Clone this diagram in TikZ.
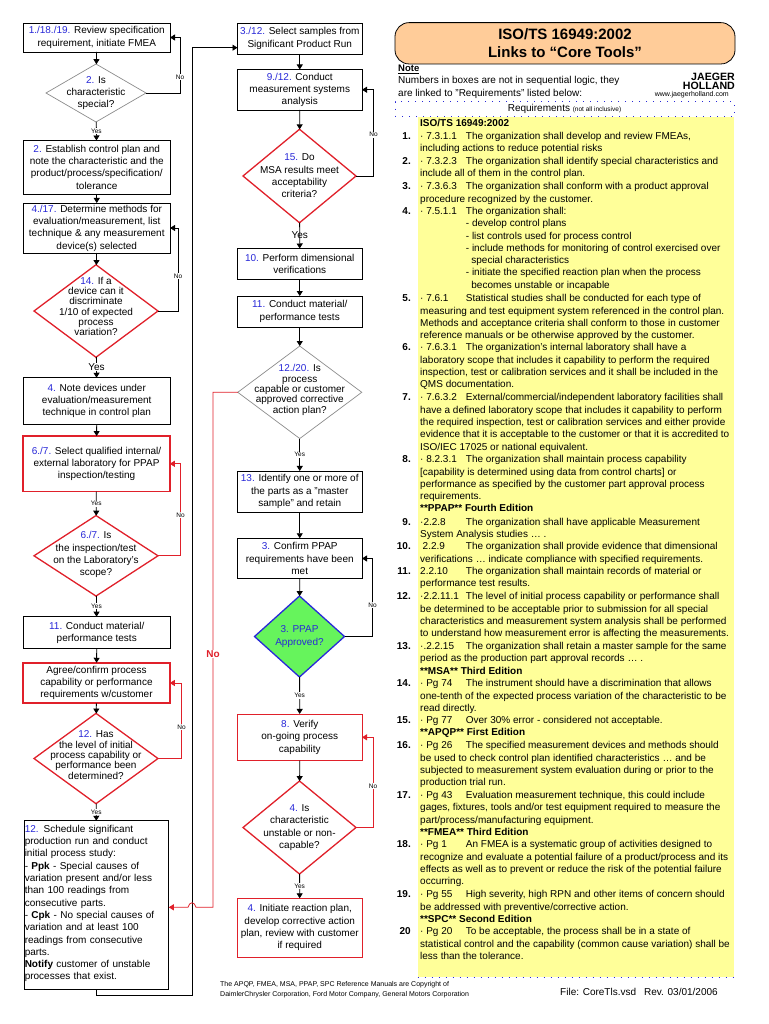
\documentclass[tikz,border=0pt]{standalone}
\usepackage{fontspec}
\setmainfont{Liberation Sans}
\usetikzlibrary{shapes.geometric}
\usetikzlibrary{arrows.meta}

\definecolor{numblue}{HTML}{2828D8}
\definecolor{flowred}{HTML}{E0202A}
\definecolor{peach}{HTML}{FFCC99}
\definecolor{reqyellow}{HTML}{FFFF99}
\definecolor{apprgreen}{HTML}{66F45C}
\newcommand{\bn}[1]{\textcolor{numblue}{#1}}
\newcommand{\reqtab}[1]{\makebox[45.7pt][l]{#1}}
\newcommand{\lift}[1]{\rule[-#1pt]{0pt}{0pt}}

\tikzset{
	boxtext/.style={font=\fontsize{10}{12.3}\selectfont},
	flowbox/.style={fill=white, draw=black, shape=rectangle, align=center, inner sep=0pt, outer sep=0pt, line width=0.8pt, boxtext},
	redbox/.style={flowbox, draw=flowred, line width=1.6pt},
	thinred/.style={flowbox, draw=flowred, line width=0.9pt},
	flowdiamond/.style={fill=white, draw=flowred, shape=diamond, align=center, inner sep=-14pt, outer sep=0pt, line width=1.3pt, boxtext},
	graydiamond/.style={flowdiamond, draw=black!45, line width=0.7pt},
	tight/.style={font=\fontsize{10}{10.3}\selectfont},
	flow/.style={draw=black, line width=0.8pt, -{Triangle[length=5pt,width=6pt,fill=black]}},
	flowr/.style={draw=flowred, line width=0.8pt, -{Triangle[length=5pt,width=6pt,fill=flowred]}},
	small/.style={fill=white, inner sep=0.8pt, font=\fontsize{6.5}{7}\selectfont},
	yeslarge/.style={inner sep=0.5pt, font=\fontsize{10}{12}\selectfont},
	reqtext/.style={anchor=north west, align=left, inner sep=0pt, boxtext},
	reqnum/.style={anchor=north east, inner sep=0pt, font=\bfseries\fontsize{10}{12.3}\selectfont},
	reqhead/.style={anchor=north west, inner sep=0pt, font=\bfseries\fontsize{10}{12.3}\selectfont},
	plain/.style={anchor=west, inner sep=0pt, boxtext},
	sparsedots/.style={draw=numblue, line width=0.8pt, dash pattern=on 0.8pt off 6.2pt},
}

\begin{document}
\begin{tikzpicture}[x=1pt, y=-1pt]
	\useasboundingbox (0, 0) rectangle (768, 1024);
	% left column
	\node [flowbox, minimum width=146.5pt, minimum height=29pt] (0) at (96.75, 37.5) {\bn{1./18./19.} Review specification\\requirement, initiate FMEA};
	\node [graydiamond, minimum width=100pt, minimum height=58pt] (1) at (96, 93) {\bn{2.} Is\\characteristic\\special?};
	\node [flowbox, minimum width=146.5pt, minimum height=53.5pt] (2) at (96.75, 167.25) {\bn{2.} Establish control plan and\\note the characteristic and the\\product/process/specification/\\tolerance};
	\node [flowbox, minimum width=146.5pt, minimum height=50pt] (3) at (96.75, 228) {\bn{4./17.} Determine methods for\\evaluation/measurement, list\\technique \& any measurement\\device(s) selected};
	\node [flowdiamond, tight, minimum width=124pt, minimum height=92.5pt] (4) at (96, 311) {\bn{14.} If a\\device can it\\discriminate\\1/10 of expected\\process\\variation?\lift{9}};
	\node [flowbox, minimum width=146.5pt, minimum height=46.5pt] (5) at (96.75, 401) {\bn{4.} Note devices under\\evaluation/measurement\\technique in control plan};
	\node [redbox, minimum width=146.5pt, minimum height=55.5pt] (6) at (96.5, 463.8) {\bn{6./7.} Select qualified internal/\\external laboratory for PPAP\\inspection/testing};
	\node [flowdiamond, minimum width=124pt, minimum height=80.5pt] (7) at (96, 555.8) {\bn{6./7.} Is\\the  inspection/test\\on the Laboratory's\\scope?\lift{4}};
	\node [flowbox, minimum width=146.5pt, minimum height=32pt] (8) at (96.75, 632.7) {\bn{11.} Conduct material/\\performance tests};
	\node [redbox, minimum width=146.5pt, minimum height=40.5pt] (9) at (96.5, 683) {Agree/confirm process\\capability or performance\\requirements w/customer};
	\node [flowdiamond, tight, minimum width=124pt, minimum height=87pt] (10) at (96, 758.5) {\bn{12.} Has\\the level of initial\\process capability  or\\performance been\\determined?\lift{7}};
	\node [flowbox, align=left, text width=144pt, minimum height=168.5pt] (11) at (96.75, 905) {\bn{12.} Schedule significant\\production run and conduct\\initial process study:\\- \textbf{Ppk} - Special causes of\\variation present and/or less\\than 100 readings from\\consecutive parts.\\- \textbf{Cpk} - No special causes of\\variation and at least 100\\readings from consecutive\\parts.\\\textbf{Notify} customer of unstable\\processes that exist.\lift{5}};
	% middle column
	\node [flowbox, minimum width=124.5pt, minimum height=31pt] (12) at (299.75, 38.5) {\bn{3./12.} Select samples from\\Significant Product Run};
	\node [flowbox, minimum width=124.5pt, minimum height=40.5pt] (13) at (299.75, 89.75) {\bn{9./12.} Conduct\\measurement systems\\analysis};
	\node [flowdiamond, minimum width=113pt, minimum height=93.5pt] (14) at (299.5, 176) {\bn{15.} Do\\MSA results meet\\acceptability\\criteria?};
	\node [flowbox, minimum width=124.5pt, minimum height=31pt] (15) at (299.75, 264) {\bn{10.} Perform dimensional\\verifications};
	\node [flowbox, minimum width=124.5pt, minimum height=31pt] (16) at (299.75, 311.5) {\bn{11.} Conduct material/\\performance tests};
	\node [graydiamond, tight, minimum width=124pt, minimum height=92.5pt] (17) at (299.75, 392.3) {\bn{12./20.} Is\\process\\capable or customer\\approved corrective\\action plan?\lift{7}};
	\node [flowbox, minimum width=124.5pt, minimum height=41.5pt] (18) at (299.75, 491.7) {\bn{13.} Identify one or more of\\the parts as a "master\\sample" and retain};
	\node [flowbox, minimum width=124.5pt, minimum height=40.5pt] (19) at (299.75, 558.5) {\bn{3.} Confirm PPAP\\requirements have been\\met};
	\node [flowdiamond, draw=numblue, fill=apprgreen, text=numblue, line width=1.3pt, minimum width=90pt, minimum height=81pt] (20) at (299.5, 636.5) {3. PPAP\\Approved?};
	\node [thinred, minimum width=124.5pt, minimum height=46.7pt] (21) at (299.75, 737.3) {\bn{8.} Verify\\on-going process\\capability};
	\node [flowdiamond, minimum width=113pt, minimum height=93pt] (22) at (299.5, 827.5) {\bn{4.} Is\\characteristic\\unstable or non-\\capable?};
	\node [thinred, minimum width=124.5pt, minimum height=59pt] (23) at (299.75, 927.8) {\bn{4.} Initiate reaction plan,\\develop corrective action\\plan, review with customer\\if required};
	% connectors left
	\draw [flow] (0) to (1);
	\draw [flow] (1) to node [small] (y0) {Yes} (2);
	\draw [flow] (2) to (3);
	\draw [flow] (3) to (4);
	\draw [flow] (4) to node [yeslarge, fill=white] (y1) {Yes} (5);
	\draw [flow] (5) to (6);
	\draw [flow] (6) to node [small] (y2) {Yes} (7);
	\draw [flow] (7) to node [small] (y3) {Yes} (8);
	\draw [flow] (8) to (9);
	\draw [flow] (9) to (10);
	\draw [flow] (10) to node [small] (y4) {Yes} (11);
	\draw [flow] (1.east) -- ++(34, 0) |- node [small, pos=0.144] (n0) {No} (0.east);
	\draw [flow] (4.east) -- ++(20, 0) |- node [small, pos=0.21] (n1) {No} (3.east);
	\draw [flowr] (7.east) -- ++(22.5, 0) |- node [small, pos=0.22, text=black] (n2) {No} (6.east);
	\draw [flowr] (10.east) -- ++(23.5, 0) |- node [small, pos=0.21, text=black] (n3) {No} (9.east);
	% connectors middle
	\draw [flow] (11.south) -- ++(0, 6.3) -- ++(95.5, 0) |- ([yshift=-9.2pt]12.west);
	\draw [flow] (12) to (13);
	\draw [flow] (13) to (14);
	\draw [flow] (14) to node [yeslarge, pos=0.48] (y5) {Yes} (15);
	\draw [flow] (15) to (16);
	\draw [flow] (16) to (17);
	\draw [flow] (17) to node [small] (y6) {Yes} (18);
	\draw [flow] (18) to (19);
	\draw [flow] (19) to (20);
	\draw [flow] (20) to node [small] (y7) {Yes} (21);
	\draw [flow] (21) to (22);
	\draw [flow] (22) to node [small] (y8) {Yes} (23);
	\draw [flow] (14.east) -- ++(17.5, 0) |- node [small, pos=0.24] (n4) {No} (13.east);
	\draw [flow] (20.east) -- ++(28, 0) |- node [small, pos=0.2] (n5) {No} (19.east);
	\draw [flowr] (22.east) -- ++(17, 0) |- node [small, pos=0.23, text=black] (n6) {No} (21.east);
	% red line over the black one
	\coordinate (hopa) at (196, 907.3);
	\coordinate (hopb) at (188, 907.3);
	\draw [flowr] (17.west) -- ++(-24.7, 0) |- node [pos=0.254, fill=white, inner sep=0.5pt, text=flowred, font=\bfseries\fontsize{10}{12}\selectfont] (n7) {No} (hopa) .. controls +(-1.5, -6) and +(1.5, -6) .. (hopb) -- (11.east |- hopb);
	% right panel
	\node [fill=peach, draw=black, shape=rectangle, rounded corners=14pt, align=center, line width=0.8pt, minimum width=340pt, minimum height=41.3pt, inner sep=0pt, font=\bfseries\fontsize{15}{18.6}\selectfont] (24) at (565, 43.3) {ISO/TS 16949:2002\\Links to “Core Tools”};
	\node [plain, font=\bfseries\fontsize{9.5}{12}\selectfont] (25) at (398, 69.5) {\underline{Note}};
	\node [plain] (26) at (398, 81) {Numbers in boxes are not in sequential logic, they};
	\node [plain] (27) at (398, 94) {are linked to "Requirements" listed below:};
	\node [anchor=north east, align=right, inner sep=0pt, font=\bfseries\fontsize{10.6}{9}\selectfont] (28) at (735, 73) {JAEGER\hspace{15pt}\\HOLLAND};
	\node [anchor=east, inner sep=0pt, font=\fontsize{7}{8}\selectfont] (29) at (729, 95) {www.jaegerholland.com};
	\node [sparsedots, minimum width=339pt, minimum height=15pt, inner sep=0pt, boxtext] (30) at (564.5, 109.2) {Requirements {\fontsize{6.5}{7}\selectfont (not all inclusive)}};
	\fill [reqyellow] (417.7, 117) rectangle (734, 977);
	\draw [sparsedots] (417.7, 977) -- (734, 977);
	% requirements
	\node [reqhead] (31) at (420, 119.5) {ISO/TS 16949:2002};
	\node [reqnum] (n1q) at (411, 132) {1.};
	\node [reqtext] (r1) at (420, 132) {\reqtab{· 7.3.1.1}The organization shall develop and review FMEAs,\\including actions to reduce potential risks};
	\node [reqnum] (n2q) at (411, 157) {2.};
	\node [reqtext] (r2) at (420, 157) {\reqtab{· 7.3.2.3}The organization shall identify special characteristics and\\include all of them in the control plan.};
	\node [reqnum] (n3q) at (411, 182.5) {3.};
	\node [reqtext] (r3) at (420, 182.5) {\reqtab{· 7.3.6.3}The organization shall conform with a product approval\\procedure recognized by the customer.};
	\node [reqnum] (n4q) at (411, 207) {4.};
	\node [reqtext] (r4) at (420, 207) {\reqtab{· 7.5.1.1}The organization shall:\\\reqtab{}- develop control plans\\\reqtab{}- list  controls used for process control\\\reqtab{}- include methods for monitoring of control exercised over\\\reqtab{}\hspace{5.5pt}special characteristics\\\reqtab{}- initiate the specified reaction plan when the process\\\reqtab{}\hspace{5.5pt}becomes unstable or incapable};
	\node [reqnum] (n5q) at (411, 294.5) {5.};
	\node [reqtext] (r5) at (420, 294.5) {\reqtab{· 7.6.1}Statistical studies shall be conducted for each type of\\measuring and test equipment system referenced in the control plan.\\Methods and acceptance criteria shall conform to those in customer\\reference manuals or be otherwise approved by the customer.};
	\node [reqnum] (n6q) at (411, 343.5) {6.};
	\node [reqtext] (r6) at (420, 343.5) {\reqtab{· 7.6.3.1}The organization's internal laboratory shall have a\\laboratory scope that includes it capability to perform the required\\inspection, test or calibration services and it shall be included in the\\QMS documentation.};
	\node [reqnum] (n7q) at (411, 393.5) {7.};
	\node [reqtext] (r7) at (420, 393.5) {\reqtab{· 7.6.3.2}External/commercial/independent laboratory facilities shall\\have a defined laboratory scope that includes it capability to perform\\the required inspection, test or calibration services and either provide\\evidence that it is acceptable to the customer or that it is accredited to\\ISO/IEC 17025 or national equivalent.};
	\node [reqnum] (n8q) at (411, 455.5) {8.};
	\node [reqtext] (r8) at (420, 455.5) {\reqtab{· 8.2.3.1}The organization shall maintain process capability\\{[capability} is determined using data from control charts]  or\\performance  as specified by the customer part approval process\\requirements.};
	\node [reqhead] (32) at (420, 504) {**PPAP** Fourth Edition};
	\node [reqnum] (n9q) at (411, 518) {9.};
	\node [reqtext] (r9) at (420, 518) {\reqtab{·2.2.8}The organization shall have applicable Measurement\\System Analysis studies … .};
	\node [reqnum] (n10q) at (411, 542.5) {10.};
	\node [reqtext] (r10) at (420, 542.5) {\reqtab{\hspace{2.5pt}2.2.9}The organization shall provide evidence that dimensional\\verifications … indicate compliance with specified requirements.};
	\node [reqnum] (n11q) at (411, 567) {11.};
	\node [reqtext] (r11) at (420, 567) {\reqtab{2.2.10}The organization shall maintain records of material or\\performance test results.};
	\node [reqnum] (n12q) at (411, 592.5) {12.};
	\node [reqtext] (r12) at (420, 592.5) {\reqtab{·2.2.11.1}The level of initial process capability or performance shall\\be determined to be acceptable prior to submission for all special\\characteristics and measurement system analysis shall be performed\\to understand how measurement error is affecting the measurements.};
	\node [reqnum] (n13q) at (411, 642) {13.};
	\node [reqtext] (r13) at (420, 642) {\reqtab{·.2.2.15}The organization shall retain a master sample for the same\\period as the production part approval records … .};
	\node [reqhead] (33) at (420, 667) {**MSA** Third Edition};
	\node [reqnum] (n14q) at (411, 679.5) {14.};
	\node [reqtext] (r14) at (420, 679.5) {\reqtab{· Pg 74}The instrument should have a discrimination that allows\\one-tenth of the expected  process variation of the characteristic to be\\read directly.};
	\node [reqnum] (n15q) at (411, 716.5) {15.};
	\node [reqtext] (r15) at (420, 716.5) {\reqtab{· Pg 77}Over 30\% error - considered not acceptable.};
	\node [reqhead] (34) at (420, 728.5) {**APQP** First Edition};
	\node [reqnum] (n16q) at (411, 741.5) {16.};
	\node [reqtext] (r16) at (420, 741.5) {\reqtab{· Pg 26}The specified measurement devices and methods should\\be used to check control plan identified characteristics … and be\\subjected to measurement system evaluation during or prior to the\\production trial run.};
	\node [reqnum] (n17q) at (411, 791) {17.};
	\node [reqtext] (r17) at (420, 791) {\reqtab{· Pg 43}Evaluation measurement technique, this could include\\gages, fixtures, tools and/or test equipment required to measure the\\part/process/manufacturing equipment.};
	\node [reqhead] (35) at (420, 828) {**FMEA** Third Edition};
	\node [reqnum] (n18q) at (411, 840.5) {18.};
	\node [reqtext] (r18) at (420, 840.5) {\reqtab{· Pg 1}An FMEA is a systematic group of activities designed to\\recognize and evaluate a potential failure of a product/process and its\\effects as well as to prevent or reduce the risk of the potential failure\\occurring.};
	\node [reqnum] (n19q) at (411, 890.5) {19.};
	\node [reqtext] (r19) at (420, 890.5) {\reqtab{· Pg 55}High severity, high RPN and other items of concern should\\be addressed with preventive/corrective action.};
	\node [reqhead] (36) at (420, 915) {**SPC** Second Edition};
	\node [reqnum] (n20q) at (411, 927.5) {20};
	\node [reqtext] (r20) at (420, 927.5) {\reqtab{· Pg 20}To be acceptable, the process shall be in a state of\\statistical control and the capability (common cause variation) shall be\\less than the tolerance.};
	% footer
	\node [anchor=north west, align=left, inner sep=0pt, font=\fontsize{7}{9.6}\selectfont] (37) at (220, 981.5) {The APQP, FMEA, MSA, PPAP, SPC Reference Manuals are Copyright of\\DaimlerChrysler Corporation, Ford Motor Company, General Motors Corporation};
	\node [plain] (38) at (560, 992.3) {File: CoreTls.vsd\hspace{8pt}Rev. 03/01/2006};
\end{tikzpicture}
\end{document}
